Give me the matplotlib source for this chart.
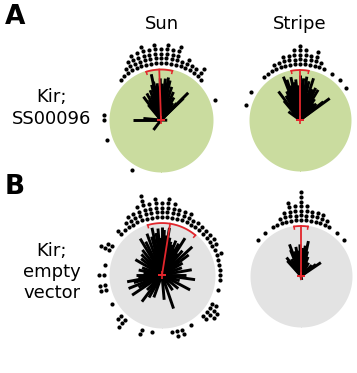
import numpy as np
import matplotlib
matplotlib.use("Agg")
import matplotlib.pyplot as plt

W, H = 357, 373

# ---- data (angles in degrees clockwise from top, lengths as fraction of radius)
a_sun_ang = [-90, -85, -143, -40, -37, -30, -28, -22, -20, -15, -12, -11, -8, -6, -3, -1, 2, 4, 6, 8,
             10, 12, 13, 16, 18, 22, 24, 30, 35, 43, 45, 46, 92]
a_sun_len = [0.53, 0.34, 0.24, 0.38, 0.56, 0.45, 0.58, 0.5, 0.61, 0.7, 0.9, 0.75, 0.65, 0.71, 0.6, 0.8, 0.7, 0.55, 0.8, 0.66,
             0.83, 0.62, 0.78, 0.5, 0.67, 0.45, 0.59, 0.5, 0.4, 0.44, 0.74, 0.6, 0.12]
a_sun_bins = [-150, -110, -90, -85, -45, -40, -35, -30, -25, -20, -15, -10, -5, 0, 5, 10, 15, 20, 25, 30, 35, 40, 45, 70]
a_sun_cnt = [1, 1, 1, 1, 1, 1, 2, 3, 4, 4, 5, 4, 5, 4, 5, 4, 5, 2, 3, 2, 2, 3, 1, 1]

a_str_ang = [-54, -40, -37, -30, -25, -21, -18, -15, -12, -9, -6, -3, 0, 3, 5, 7, 9, 11, 13, 15,
             18, 22, 26, 31, 35, 39, 45, 52, 54]
a_str_len = [0.28, 0.49, 0.7, 0.55, 0.62, 0.91, 0.83, 0.7, 0.86, 0.75, 0.8, 0.68, 0.88, 0.72, 0.82, 0.6, 0.86, 0.7, 0.78, 0.55,
             0.86, 0.65, 0.7, 0.69, 0.5, 0.42, 0.45, 0.58, 0.72]
a_str_bins = [-75, -60, -40, -35, -30, -25, -20, -15, -10, -5, 0, 5, 10, 15, 20, 25, 35, 45, 55]
a_str_cnt = [1, 1, 1, 1, 1, 2, 2, 3, 3, 4, 5, 4, 3, 4, 2, 1, 1, 1, 1]

b_sun_ang = [-160, -150, -143, -135, -124, -118, -112, -105, -101, -95, -90, -85, -78, -70, -60, -52, -45, -38, -31, -26,
             -20, -15, -12, -8, -5, -2, 0, 3, 6, 9, 12, 15, 18, 22, 25, 28, 32, 36, 40, 47,
             53, 60, 70, 80, 90, 98, 108, 118, 130, 145, 161, 175]
b_sun_len = [0.45, 0.49, 0.63, 0.4, 0.68, 0.5, 0.68, 0.55, 0.67, 0.45, 0.5, 0.35, 0.45, 0.4, 0.58, 0.5, 0.55, 0.6, 0.8, 0.7,
             0.83, 0.75, 0.91, 0.8, 0.88, 0.7, 0.9, 0.85, 0.75, 0.9, 0.72, 0.65, 0.6, 0.7, 0.55, 0.67, 0.82, 0.5, 0.6, 0.78,
             0.63, 0.45, 0.4, 0.57, 0.45, 0.63, 0.35, 0.6, 0.4, 0.35, 0.67, 0.47]
b_sun_bins = [-35, -30, -25, -20, -15, -10, -5, 0, 5, 10, 15, 20, 25, 30, 35, 40, 45, 50, 55, 60,
              65, 70, 75, 80, 85, 90, 95, 105, 120, 125, 130, 135, 150, 160, 165, 170,
              -170, -160, -140, -135, -120, -105, -100, -90, -80, -65, -60, -45, -40]
b_sun_cnt = [2, 3, 3, 4, 6, 4, 5, 4, 5, 4, 3, 3, 3, 2, 2, 2, 2, 2, 2, 2,
             1, 2, 1, 1, 1, 1, 1, 1, 2, 3, 3, 2, 1, 2, 2, 1,
             1, 2, 3, 2, 1, 2, 2, 2, 1, 3, 2, 2, 1]

b_str_ang = [-42, -38, -30, -22, -20, -15, -10, -7, -4, -2, 2, 5, 8, 10, 12, 15, 20, 30, 45, 52, 56, 170]
b_str_len = [0.4, 0.46, 0.38, 0.55, 0.66, 0.5, 0.58, 0.5, 0.45, 0.62, 0.4, 0.55, 0.6, 0.42, 0.7, 0.5, 0.4, 0.3, 0.3, 0.37, 0.47, 0.08]
b_str_bins = [-50, -40, -30, -25, -20, -15, -10, -5, 0, 5, 10, 15, 20, 25, 30, 40, 50]
b_str_cnt = [1, 1, 1, 1, 2, 3, 5, 4, 7, 4, 3, 3, 3, 2, 1, 1, 1]

# mean vector: angle, length, arc low, arc high
a_sun_mean = (-2, 0.97, -17, 13)
a_str_mean = (0, 0.98, -10, 10)
b_sun_mean = (9, 0.98, -16, 40)
b_str_mean = (0, 0.98, -8, 8)

GREEN = "#cadc9f"
GREY = "#e3e3e3"
RED = "#e2262c"

fig = plt.figure(figsize=(W / 100, H / 100), dpi=100, facecolor="white")

RMAX = 1.9


def panel(cx, cy, rad, face, ang, ln, bins, cnt, mean):
    R = rad * RMAX
    ax = fig.add_axes([(cx - R) / W, (H - cy - R) / H, 2 * R / W, 2 * R / H], projection="polar")
    ax.set_theta_zero_location("N")
    ax.set_theta_direction(-1)
    ax.set_rlim(0, RMAX)
    ax.axis("off")
    th = np.linspace(0, 2 * np.pi, 200)
    ax.fill_between(th, 0, 1, color=face, lw=0, zorder=1)
    for a, l in zip(ang, ln):
        t = np.deg2rad(a)
        ax.plot([t, t], [0, l], color="black", lw=2.1, solid_capstyle="butt", zorder=2)
    step = 4.6 / rad
    for a, c in zip(bins, cnt):
        t = np.deg2rad(a)
        rs = [1.1 + k * step for k in range(c)]
        ax.plot([t] * c, rs, "o", color="black", ms=3.0, mew=0, clip_on=False, zorder=3)
    mu, rl, lo, hi = mean
    t = np.deg2rad(mu)
    ax.plot([t, t], [0, rl], color=RED, lw=1.3, zorder=4)
    arc = np.deg2rad(np.linspace(lo, hi, 50))
    ax.plot(arc, [rl] * 50, color=RED, lw=1.3, zorder=4)
    for e in (lo, hi):
        te = np.deg2rad(e)
        ax.plot([te, te], [rl - 0.05, rl], color=RED, lw=1.1, zorder=4)
    ax.plot([t], [0], "+", color=RED, ms=6, mew=1.2, zorder=5)
    return ax


panel(161, 120, 52, GREEN, a_sun_ang, a_sun_len, a_sun_bins, a_sun_cnt, a_sun_mean)
panel(300, 120, 51, GREEN, a_str_ang, a_str_len, a_str_bins, a_str_cnt, a_str_mean)
panel(162, 275, 53, GREY, b_sun_ang, b_sun_len, b_sun_bins, b_sun_cnt, b_sun_mean)
panel(301, 276, 51, GREY, b_str_ang, b_str_len, b_str_bins, b_str_cnt, b_str_mean)


def txt(x, y, s, **kw):
    fig.text(x / W, 1 - y / H, s, **kw)


txt(5, 17, "A", fontsize=19, fontweight="bold", ha="left", va="center")
txt(5, 187, "B", fontsize=19, fontweight="bold", ha="left", va="center")
txt(162, 24, "Sun", fontsize=13, ha="center", va="center")
txt(300, 24, "Stripe", fontsize=13, ha="center", va="center")
txt(52, 108, "Kir;\nSS00096", fontsize=13, ha="center", va="center", linespacing=1.25)
txt(52, 272, "Kir;\nempty\nvector", fontsize=13, ha="center", va="center", linespacing=1.25)

fig.savefig("out.png", dpi=100)
